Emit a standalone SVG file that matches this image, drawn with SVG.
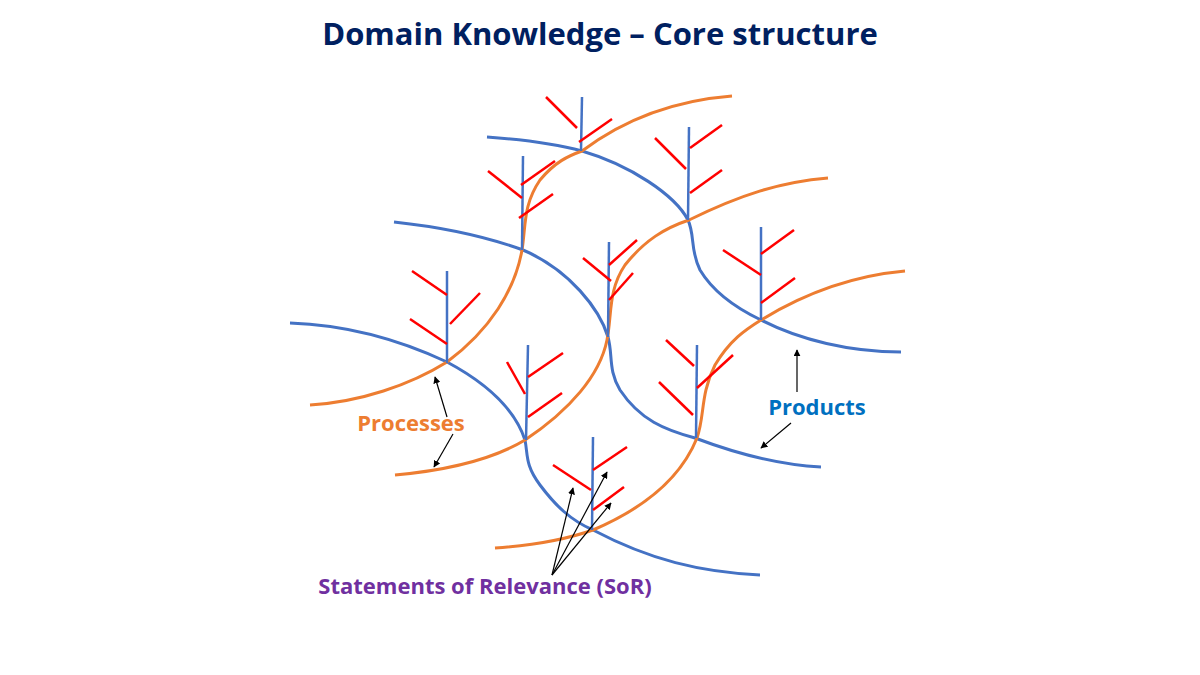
<svg xmlns="http://www.w3.org/2000/svg" width="1200" height="675" viewBox="0 0 1200 675">
<defs>
<marker id="ah" viewBox="0 0 10 10" refX="9" refY="5" markerWidth="7" markerHeight="7" orient="auto" markerUnits="userSpaceOnUse"><path d="M0,0 L10,5 L0,10 z" fill="#000"/></marker>
<style>
.b{fill:none;stroke:#4472C4;stroke-width:3}
.o{fill:none;stroke:#ED7D31;stroke-width:3}
.s{stroke:#4472C4;stroke-width:2.5}
.r{stroke:#FF0000;stroke-width:2.5}
.a{stroke:#000;stroke-width:1.2;marker-end:url(#ah)}
text{font-family:"Open Sans","Liberation Sans",sans-serif;font-weight:bold;text-anchor:middle}
</style>
</defs>
<rect width="1200" height="675" fill="#fff"/>
<text x="600" y="45" font-size="31" fill="#002060">Domain Knowledge – Core structure</text>
<g id="products">
<path class="b" d="M487,137 C530,140 560,145 582,151 C630,165 675,195 688,220 C695,235 690,250 700,270 C715,295 740,310 761,320 C800,340 850,352 901,352"/>
<path class="b" d="M394,222 C450,228 490,238 523,250 C570,270 600,310 608,337 C613,355 608,370 620,390 C640,420 665,430 695,438 C740,455 780,465 821,467"/>
<path class="b" d="M290,323 C350,325 400,340 447,362 C490,385 515,410 525,440 C528,455 525,465 540,485 C555,505 570,520 593,530 C650,560 700,572 760,575"/>
</g>
<g id="processes">
<path class="o" d="M310,405 C360,402 410,385 447,362 C490,330 515,290 522,250 C526,225 523,205 540,180 C555,162 568,156 582,151 C630,115 680,100 732,96"/>
<path class="o" d="M395,475 C450,470 495,458 525,440 C570,410 600,375 607,340 C612,315 608,290 625,265 C645,240 665,228 689,220 C740,195 780,182 828,178"/>
<path class="o" d="M495,548 C540,545 570,538 593,530 C640,510 680,480 697,438 C705,415 700,395 715,365 C730,340 745,330 761,320 C810,290 860,275 905,271"/>
</g>
<g id="sor-t1"><line class="s" x1="582" y1="97" x2="581" y2="151"/><line class="r" x1="546" y1="97" x2="577" y2="128"/><line class="r" x1="579" y1="142" x2="612" y2="119"/></g>
<g id="sor-t2"><line class="s" x1="523" y1="156" x2="522" y2="250"/><line class="r" x1="555" y1="161" x2="521" y2="185"/><line class="r" x1="488" y1="171" x2="522" y2="198"/><line class="r" x1="553" y1="194" x2="519" y2="218"/></g>
<g id="sor-t3"><line class="s" x1="447" y1="271" x2="447" y2="363"/><line class="r" x1="412" y1="271" x2="447" y2="295"/><line class="r" x1="480" y1="293" x2="450" y2="324"/><line class="r" x1="410" y1="319" x2="447" y2="344"/></g>
<g id="sor-t4"><line class="s" x1="609" y1="242" x2="608" y2="337"/><line class="r" x1="637" y1="240" x2="609" y2="265"/><line class="r" x1="583" y1="258" x2="611" y2="281"/><line class="r" x1="633" y1="273" x2="609" y2="300"/></g>
<g id="sor-t5"><line class="s" x1="528" y1="345" x2="526" y2="440"/><line class="r" x1="507" y1="362" x2="525" y2="394"/><line class="r" x1="563" y1="353" x2="528" y2="377"/><line class="r" x1="562" y1="393" x2="528" y2="417"/></g>
<g id="sor-t6"><line class="s" x1="689" y1="127" x2="688" y2="220"/><line class="r" x1="722" y1="125" x2="690" y2="148"/><line class="r" x1="655" y1="138" x2="686" y2="169"/><line class="r" x1="722" y1="170" x2="690" y2="193"/></g>
<g id="sor-t7"><line class="s" x1="761" y1="227" x2="761" y2="320"/><line class="r" x1="794" y1="230" x2="761" y2="254"/><line class="r" x1="723" y1="250" x2="761" y2="275"/><line class="r" x1="795" y1="278" x2="761" y2="303"/></g>
<g id="sor-t8"><line class="s" x1="697" y1="345" x2="696" y2="438"/><line class="r" x1="666" y1="340" x2="694" y2="366"/><line class="r" x1="733" y1="355" x2="697" y2="388"/><line class="r" x1="659" y1="382" x2="693" y2="415"/></g>
<g id="sor-t9"><line class="s" x1="593" y1="437" x2="592" y2="530"/><line class="r" x1="627" y1="447" x2="593" y2="470"/><line class="r" x1="553" y1="465" x2="591" y2="490"/><line class="r" x1="624" y1="487" x2="593" y2="510"/></g>
<g id="connectors">
<line class="a" x1="447" y1="417" x2="435" y2="377"/>
<line class="a" x1="453" y1="434" x2="434" y2="467"/>
<line class="a" x1="797" y1="392" x2="797" y2="350"/>
<line class="a" x1="791" y1="423" x2="761" y2="448"/>
<line class="a" x1="552" y1="575" x2="573" y2="488"/>
<line class="a" x1="552" y1="575" x2="607" y2="472"/>
<line class="a" x1="552" y1="575" x2="611" y2="503"/>
</g>
<text x="411" y="431" font-size="22" fill="#ED7D31">Processes</text>
<text x="817" y="415" font-size="22" fill="#0070C0">Products</text>
<text x="485" y="594" font-size="22" fill="#7030A0">Statements of Relevance (SoR)</text>
</svg>
